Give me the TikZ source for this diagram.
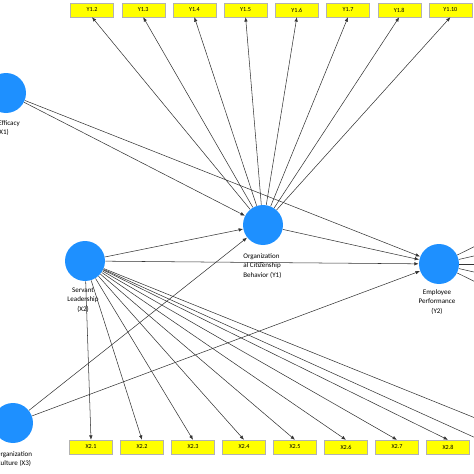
\documentclass[tikz,border=0pt]{standalone}
\usepackage{fontspec}
\setmainfont{Carlito}
\usetikzlibrary{arrows.meta}
\definecolor{lvblue}{RGB}{30,144,255}
\definecolor{mvyellow}{RGB}{255,255,0}
\tikzset{
    latent/.style = {circle, fill=lvblue, draw=none, minimum size=0.8cm, inner sep=0pt},
    indicator/.style = {rectangle, fill=mvyellow, draw=gray!60, line width=0.2pt,
        minimum width=0.86cm, minimum height=0.28cm, inner sep=0pt,
        font=\fontsize{3.5}{4}\selectfont},
    lvlabel/.style = {font=\fontsize{4}{5.4}\selectfont, inner sep=0pt},
    link/.style = {->, draw=black!80, line width=0.3pt}
}

\begin{document}
\begin{tikzpicture}[x=0.02cm, y=-0.02cm, >={Latex[length=2.5pt,width=2pt]}]
    \useasboundingbox (0,0) rectangle (474,474);

    % latent variables
    \node[latent] (X1) at (6,93) {};
    \node[latent] (X2) at (85,261) {};
    \node[latent] (X3) at (13,423) {};
    \node[latent] (Y1) at (263,225) {};
    \node[latent] (Y2) at (439,264) {};

    \node[lvlabel, align=center] (X1lab) at (3,128) {Self Efficacy\\(X1)};
    \node[lvlabel, align=left, anchor=west] (Y1lab) at (243,266) {Organization\\al Citizenship\\Behavior (Y1)};
    \node[lvlabel, align=center] (X2lab) at (83,300) {Servant\\Leadership\\(X2)};
    \node[lvlabel, align=center] (Y2lab) at (437,302) {Employee\\Performance\\(Y2)};
    \node[lvlabel, align=center] (X3lab) at (14,459) {Organization\\Culture (X3)};

    % indicators
    \foreach \n [count=\i from 0] in {2,3,4,5,6,7,8,10}
        \node[indicator] (Y1\n) at ({92+51.2*\i},10) {Y1.\n};
    \foreach \n in {1,...,8}
        \node[indicator] (X2\n) at ({91+51*(\n-1)},447) {X2.\n};

    % indicators outside the picture
    \coordinate (X29) at (520,436);
    \coordinate (X210) at (520,458);
    \coordinate (Y21) at (500,234);
    \coordinate (Y22) at (500,250);
    \coordinate (Y23) at (500,264);
    \coordinate (Y24) at (500,278);
    \coordinate (Y25) at (500,294);

    \foreach \n in {2,3,4,5,6,7,8,10}
        \draw[link] (Y1) -- (Y1\n.south);
    \foreach \n in {1,...,8}
        \draw[link] (X2) -- (X2\n.north);
    \draw[link] (X2) -- (X29);
    \draw[link] (X2) -- (X210);
    \foreach \n in {1,...,5}
        \draw[link] (Y2) -- (Y2\n);

    % structural paths
    \draw[link] (X1) -- (Y1);
    \draw[link] (X1) -- (Y2);
    \draw[link] (X2) -- (Y1);
    \draw[link] (X2) -- (Y2);
    \draw[link] (X3) -- (Y1);
    \draw[link] (X3) -- (Y2);
    \draw[link] (Y1) -- (Y2);

\end{tikzpicture}
\end{document}
